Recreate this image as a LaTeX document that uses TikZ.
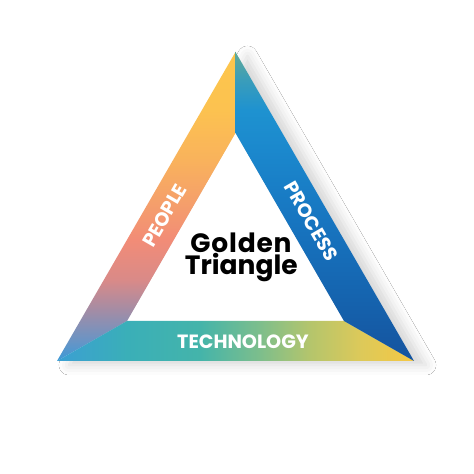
\documentclass[tikz,border=0pt]{standalone}
\usepackage{fontspec}
\setmainfont{Poppins}
\usetikzlibrary{shadows.blur}
% left band colours (bottom -> top)
\definecolor{pA}{HTML}{3C9AD8}
\definecolor{pB}{HTML}{6A94C4}
\definecolor{pC}{HTML}{A48CA5}
\definecolor{pD}{HTML}{D98A88}
\definecolor{pE}{HTML}{F28C77}
\definecolor{pF}{HTML}{F5A06A}
\definecolor{pG}{HTML}{F9B25C}
\definecolor{pH}{HTML}{FCC250}
\definecolor{pI}{HTML}{FDC64C}
% right band colours (bottom -> top)
\definecolor{rA}{HTML}{15539E}
\definecolor{rB}{HTML}{1563AE}
\definecolor{rC}{HTML}{1775C0}
\definecolor{rD}{HTML}{1B88CD}
\definecolor{rE}{HTML}{1E92D0}
\definecolor{rF}{HTML}{3A9DBA}
\definecolor{rG}{HTML}{62AA98}
% bottom band colours (left -> right)
\definecolor{bA}{HTML}{3B9FD3}
\definecolor{bB}{HTML}{3AAFB8}
\definecolor{bC}{HTML}{44B4AA}
\definecolor{bD}{HTML}{7DBE8C}
\definecolor{bE}{HTML}{B4C56C}
\definecolor{bF}{HTML}{DCC95A}
\definecolor{bG}{HTML}{F6C843}
\pgfdeclareverticalshading{peopleshade}{100bp}{color(0bp)=(pA); color(25bp)=(pA); color(28.4bp)=(pB); color(33.3bp)=(pC); color(38.1bp)=(pD); color(44.6bp)=(pE); color(51bp)=(pF); color(57.5bp)=(pG); color(65.6bp)=(pH); color(75bp)=(pI); color(100bp)=(pI)}
\pgfdeclareverticalshading{processshade}{100bp}{color(0bp)=(rA); color(25bp)=(rA); color(34.9bp)=(rB); color(47.8bp)=(rC); color(59.1bp)=(rD); color(65.6bp)=(rE); color(70.5bp)=(rF); color(75bp)=(rG); color(100bp)=(rG)}
\pgfdeclarehorizontalshading{techshade}{100bp}{color(0bp)=(bA); color(25bp)=(bA); color(34.8bp)=(bB); color(45bp)=(bC); color(53.4bp)=(bD); color(60.4bp)=(bE); color(67.4bp)=(bF); color(75bp)=(bG); color(100bp)=(bG)}
\tikzset{
  band/.style={draw=none},
  lbl/.style={text=white, font=\bfseries\fontsize{19.2}{21}\selectfont, inner sep=0pt},
  title/.style={text=black, font=\bfseries\fontsize{26.5}{28}\selectfont, inner sep=0pt, anchor=base}
}
\begin{document}
\begin{tikzpicture}[x=1pt,y=1pt]
\useasboundingbox (0,0) rectangle (474,474);
\fill[white] (0,0) rectangle (474,474);
\coordinate (A) at (235.5,422);
\coordinate (BL) at (57,113);
\coordinate (BR) at (414,113);
\coordinate (IA) at (235.5,341);
\coordinate (IL) at (127,153);
\coordinate (IR) at (344,153);
% shadow
\path[blur shadow={shadow xshift=12pt, shadow yshift=-4pt, shadow blur radius=10pt, shadow opacity=16}] (A) -- (BR) -- (BL) -- cycle;
\fill[white] (IA) -- (IL) -- (IR) -- cycle;
% bands
\shade[band, shading=peopleshade] (A) -- (BL) -- (IL) -- (IA) -- cycle;
\shade[band, shading=techshade] (BL) -- (BR) -- (IR) -- (IL) -- cycle;
\shade[band, shading=processshade] (A) -- (BR) -- (IR) -- (IA) -- cycle;
% labels
\node[lbl, rotate=60] (people) at (164.5,258.5) {PEOPLE};
\node[lbl, rotate=-60] (process) at (311,253) {PROCESS};
\node[lbl] (tech) at (243,132.5) {TECHNOLOGY};
\node[title] (golden) at (241,221.3) {\addfontfeature{LetterSpace=3}Golden};
\node[title] (triangle) at (241.3,199.7) {Triangle};
\end{tikzpicture}
\end{document}
